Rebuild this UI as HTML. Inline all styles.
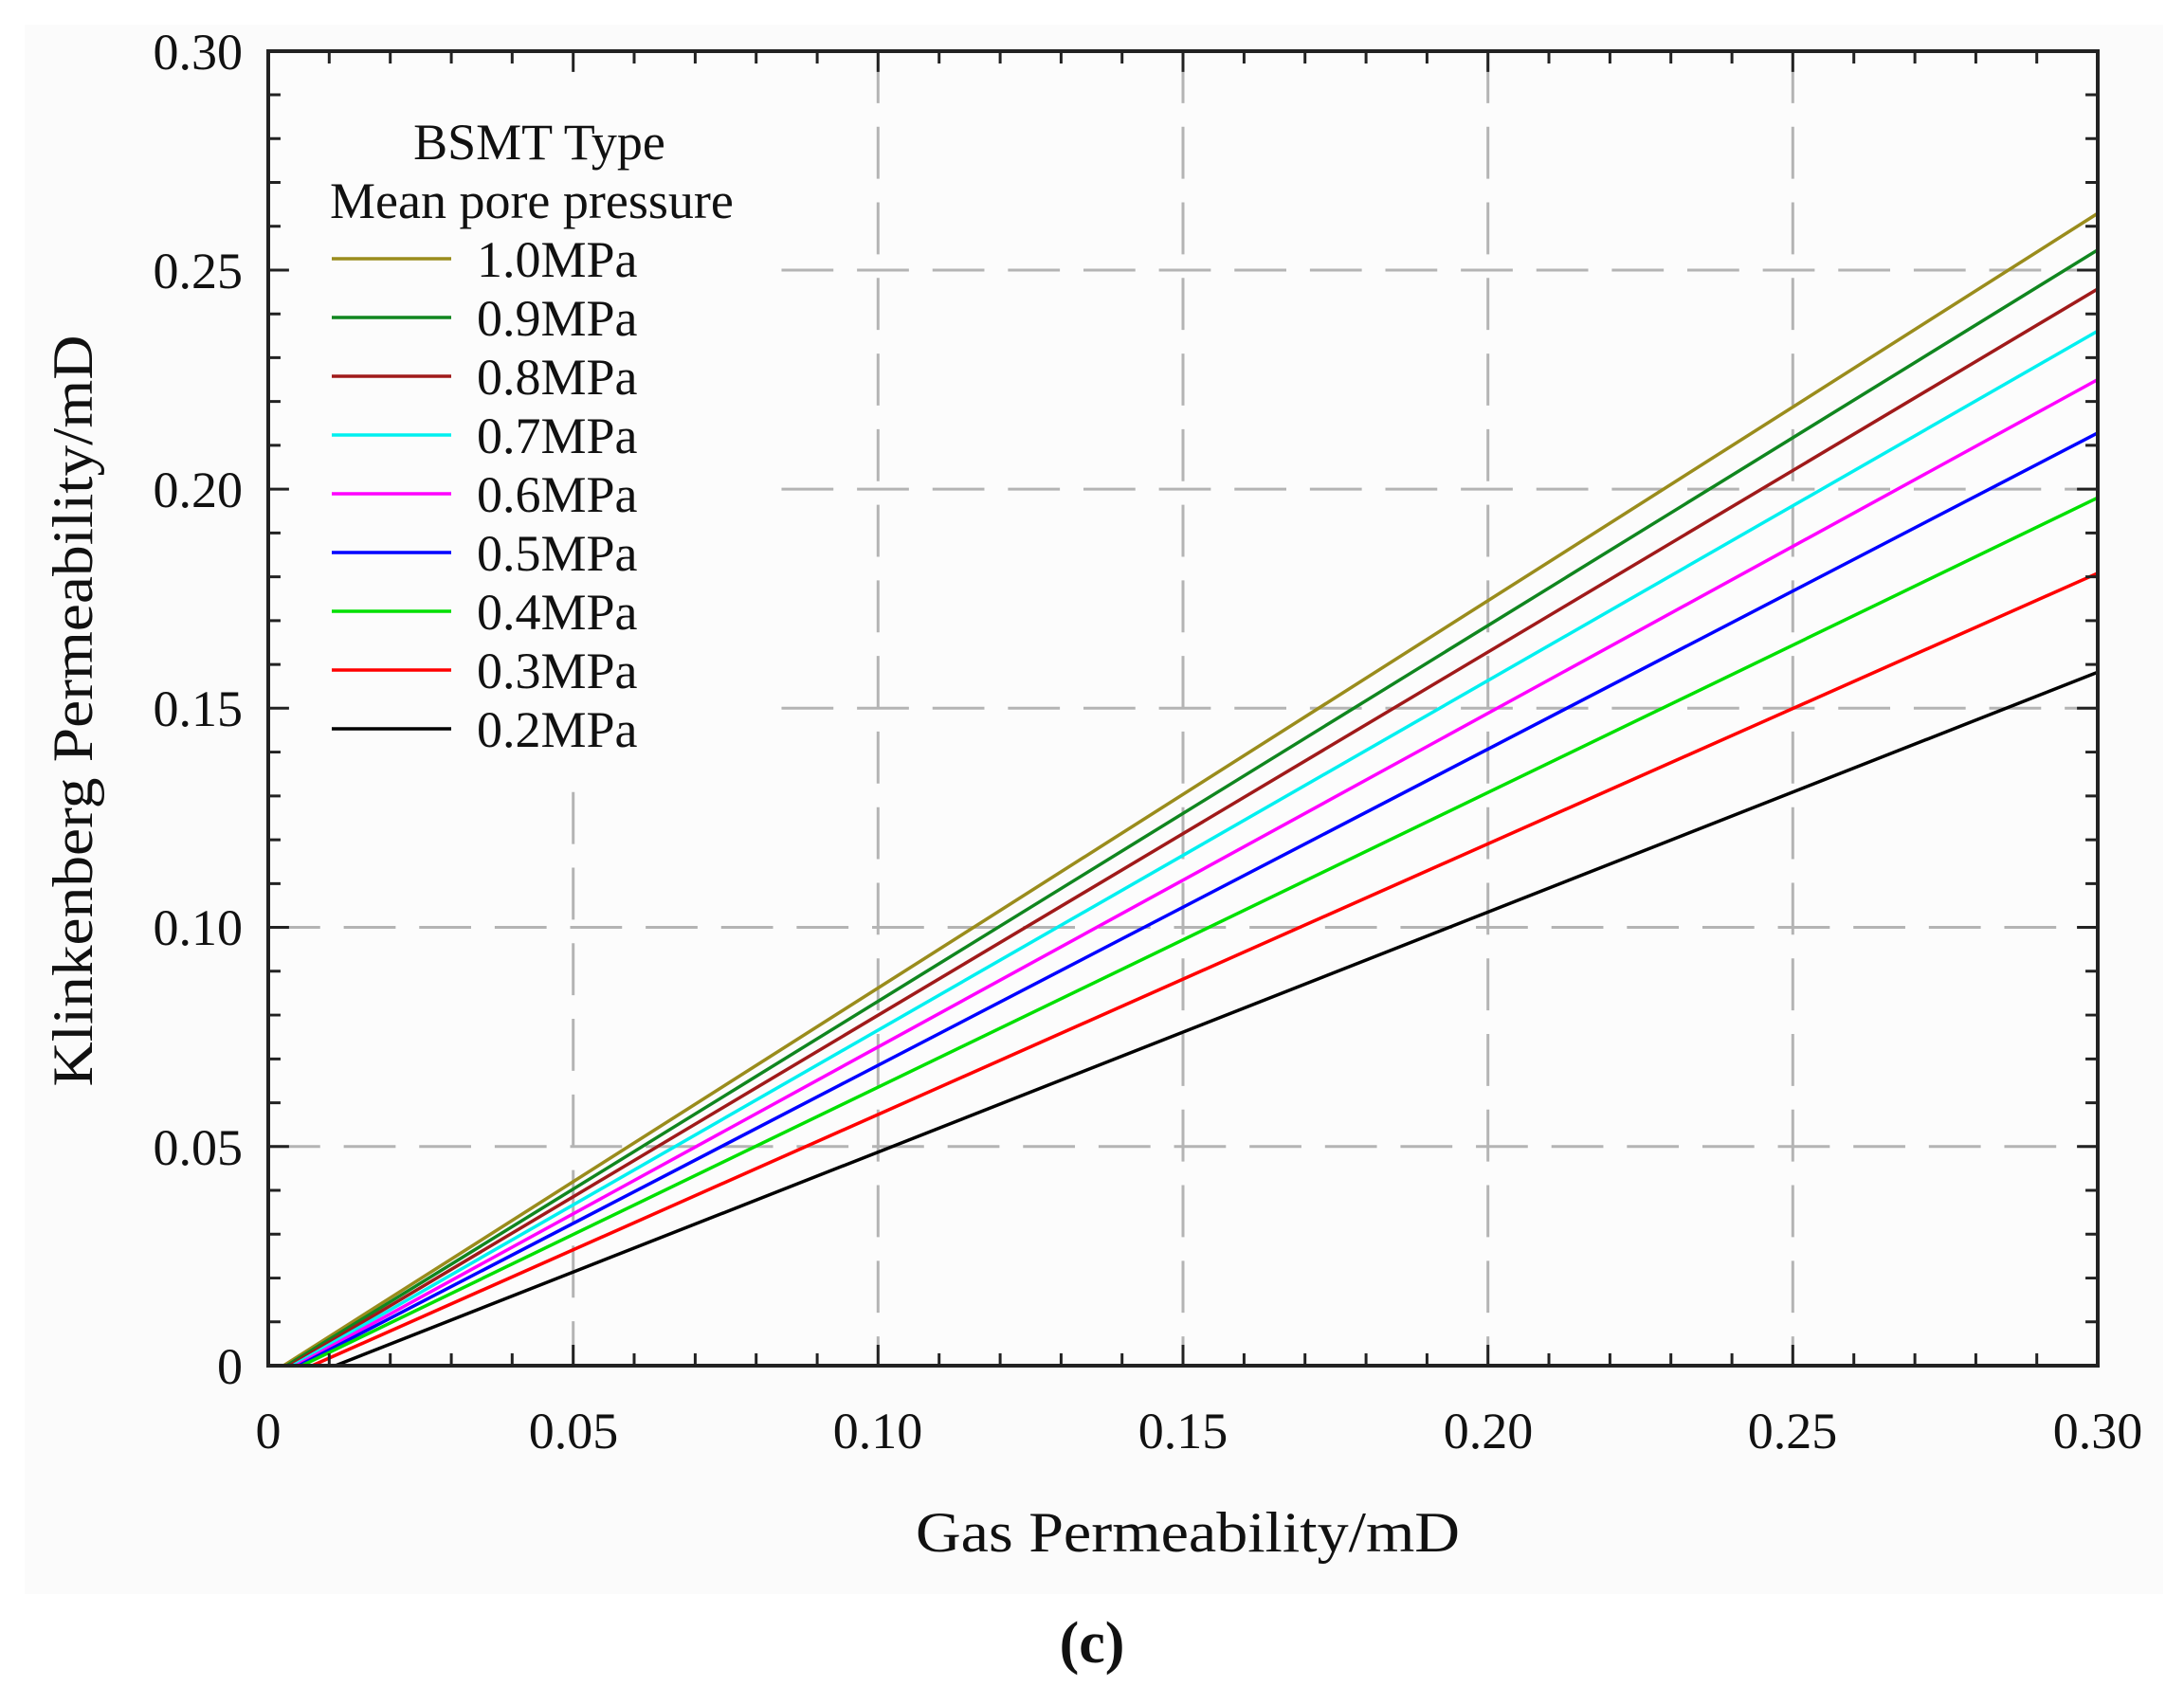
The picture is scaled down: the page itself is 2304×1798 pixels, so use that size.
<!DOCTYPE html>
<html><head><meta charset="utf-8"><style>
html,body{margin:0;padding:0;background:#fff;}
svg{display:block;}
text{font-family:"Liberation Serif","DejaVu Serif",serif;fill:#111;}
</style></head><body>
<svg width="2304" height="1798" viewBox="0 0 2304 1798" xmlns="http://www.w3.org/2000/svg">
<rect x="0" y="0" width="2304" height="1798" fill="#fff"/>
<rect x="26" y="26" width="2256" height="1656" fill="#fbfbfb"/>
<g transform="matrix(0.99536 0 0 0.99712 1.313 -0.8416)">
<rect x="283" y="55" width="1939" height="1391" fill="#fcfcfc"/>
<g stroke="#b4b4b4" stroke-width="3" stroke-dasharray="55,25" fill="none">
<line x1="827" y1="286.7" x2="2222" y2="286.7"/>
<line x1="827" y1="518.5" x2="2222" y2="518.5"/>
<line x1="827" y1="750.3" x2="2222" y2="750.3"/>
<line x1="283" y1="982.2" x2="2222" y2="982.2"/>
<line x1="283" y1="1214.1" x2="2222" y2="1214.1"/>
<line x1="606.2" y1="839" x2="606.2" y2="1446"/>
<line x1="929.3" y1="55" x2="929.3" y2="1446"/>
<line x1="1252.5" y1="55" x2="1252.5" y2="1446"/>
<line x1="1575.7" y1="55" x2="1575.7" y2="1446"/>
<line x1="1898.8" y1="55" x2="1898.8" y2="1446"/>
</g>
<g stroke-width="3.5" fill="none" stroke-linecap="butt">
<line x1="299.2" y1="1446" x2="2222" y2="226.6" stroke="#9a8c1c"/>
<line x1="302.4" y1="1446" x2="2222" y2="265.3" stroke="#10861f"/>
<line x1="305.6" y1="1446" x2="2222" y2="306.6" stroke="#a01a1a"/>
<line x1="308.9" y1="1446" x2="2222" y2="351.1" stroke="#00f0f0"/>
<line x1="312.1" y1="1446" x2="2222" y2="402.5" stroke="#ff00ff"/>
<line x1="315.3" y1="1446" x2="2222" y2="459.0" stroke="#0000ff"/>
<line x1="318.6" y1="1446" x2="2222" y2="527.6" stroke="#00e000"/>
<line x1="329.5" y1="1446" x2="2222" y2="607.4" stroke="#ff0000"/>
<line x1="354.1" y1="1446" x2="2222" y2="712.1" stroke="#000"/>
</g>
<rect x="283" y="55" width="1939" height="1391" fill="none" stroke="#222" stroke-width="4"/>
<g stroke="#222" stroke-width="3">
<path d="
M347.6 1446v-13 M412.3 1446v-13 M477 1446v-13 M541.5 1446v-13 M606.2 1446v-22
M670.8 1446v-13 M735.5 1446v-13 M800.1 1446v-13 M864.8 1446v-13 M929.3 1446v-22
M994 1446v-13 M1058.7 1446v-13 M1123.3 1446v-13 M1187.9 1446v-13 M1252.5 1446v-22
M1317.2 1446v-13 M1381.8 1446v-13 M1446.5 1446v-13 M1511.1 1446v-13 M1575.7 1446v-22
M1640.3 1446v-13 M1705 1446v-13 M1769.6 1446v-13 M1834.3 1446v-13 M1898.8 1446v-22
M1963.5 1446v-13 M2028.2 1446v-13 M2092.8 1446v-13 M2157.4 1446v-13
M347.6 55v13 M412.3 55v13 M477 55v13 M541.5 55v13 M606.2 55v22
M670.8 55v13 M735.5 55v13 M800.1 55v13 M864.8 55v13 M929.3 55v22
M994 55v13 M1058.7 55v13 M1123.3 55v13 M1187.9 55v13 M1252.5 55v22
M1317.2 55v13 M1381.8 55v13 M1446.5 55v13 M1511.1 55v13 M1575.7 55v22
M1640.3 55v13 M1705 55v13 M1769.6 55v13 M1834.3 55v13 M1898.8 55v22
M1963.5 55v13 M2028.2 55v13 M2092.8 55v13 M2157.4 55v13"/>
<path d="
M283 1399.6h13 M283 1353.3h13 M283 1306.9h13 M283 1260.5h13 M283 1214.1h22
M283 1167.8h13 M283 1121.4h13 M283 1075h13 M283 1028.6h13 M283 982.2h22
M283 935.9h13 M283 889.5h13 M283 843.1h13 M283 796.7h13 M283 750.3h22
M283 704h13 M283 657.6h13 M283 611.2h13 M283 564.8h13 M283 518.5h22
M283 472.1h13 M283 425.7h13 M283 379.3h13 M283 333h13 M283 286.7h22
M283 240.3h13 M283 193.9h13 M283 147.5h13 M283 101.1h13
M2222 1399.6h-13 M2222 1353.3h-13 M2222 1306.9h-13 M2222 1260.5h-13 M2222 1214.1h-22
M2222 1167.8h-13 M2222 1121.4h-13 M2222 1075h-13 M2222 1028.6h-13 M2222 982.2h-22
M2222 935.9h-13 M2222 889.5h-13 M2222 843.1h-13 M2222 796.7h-13 M2222 750.3h-22
M2222 704h-13 M2222 657.6h-13 M2222 611.2h-13 M2222 564.8h-13 M2222 518.5h-22
M2222 472.1h-13 M2222 425.7h-13 M2222 379.3h-13 M2222 333h-13 M2222 286.7h-22
M2222 240.3h-13 M2222 193.9h-13 M2222 147.5h-13 M2222 101.1h-13"/>
</g>
</g>
<g font-size="54" text-anchor="end">
<text x="256" y="73">0.30</text>
<text x="256" y="304">0.25</text>
<text x="256" y="535">0.20</text>
<text x="256" y="766">0.15</text>
<text x="256" y="997">0.10</text>
<text x="256" y="1229">0.05</text>
<text x="256" y="1460">0</text>
</g>
<g font-size="54" text-anchor="middle">
<text x="283" y="1528">0</text>
<text x="605" y="1528">0.05</text>
<text x="926" y="1528">0.10</text>
<text x="1248" y="1528">0.15</text>
<text x="1570" y="1528">0.20</text>
<text x="1891" y="1528">0.25</text>
<text x="2213" y="1528">0.30</text>
</g>
<text x="1253" y="1637" font-size="60" text-anchor="middle" textLength="574" lengthAdjust="spacingAndGlyphs">Gas Permeability/mD</text>
<text transform="translate(97,750) rotate(-90)" font-size="60" text-anchor="middle" textLength="793" lengthAdjust="spacingAndGlyphs">Klinkenberg Permeability/mD</text>
<text x="1152" y="1754" font-size="62" font-weight="bold" text-anchor="middle">(c)</text>
<g font-size="54">
<text x="569" y="168" text-anchor="middle">BSMT Type</text>
<text x="348" y="230">Mean pore pressure</text>
<g stroke-width="3.5">
<line x1="350" x2="476" y1="273" y2="273" stroke="#9a8c1c"/>
<line x1="350" x2="476" y1="335" y2="335" stroke="#10861f"/>
<line x1="350" x2="476" y1="397" y2="397" stroke="#a01a1a"/>
<line x1="350" x2="476" y1="459" y2="459" stroke="#00f0f0"/>
<line x1="350" x2="476" y1="521" y2="521" stroke="#ff00ff"/>
<line x1="350" x2="476" y1="583" y2="583" stroke="#0000ff"/>
<line x1="350" x2="476" y1="645" y2="645" stroke="#00e000"/>
<line x1="350" x2="476" y1="707" y2="707" stroke="#ff0000"/>
<line x1="350" x2="476" y1="769" y2="769" stroke="#000"/>
</g>
<text x="503" y="292">1.0MPa</text>
<text x="503" y="354">0.9MPa</text>
<text x="503" y="416">0.8MPa</text>
<text x="503" y="478">0.7MPa</text>
<text x="503" y="540">0.6MPa</text>
<text x="503" y="602">0.5MPa</text>
<text x="503" y="664">0.4MPa</text>
<text x="503" y="726">0.3MPa</text>
<text x="503" y="788">0.2MPa</text>
</g>
</svg>
</body></html>
